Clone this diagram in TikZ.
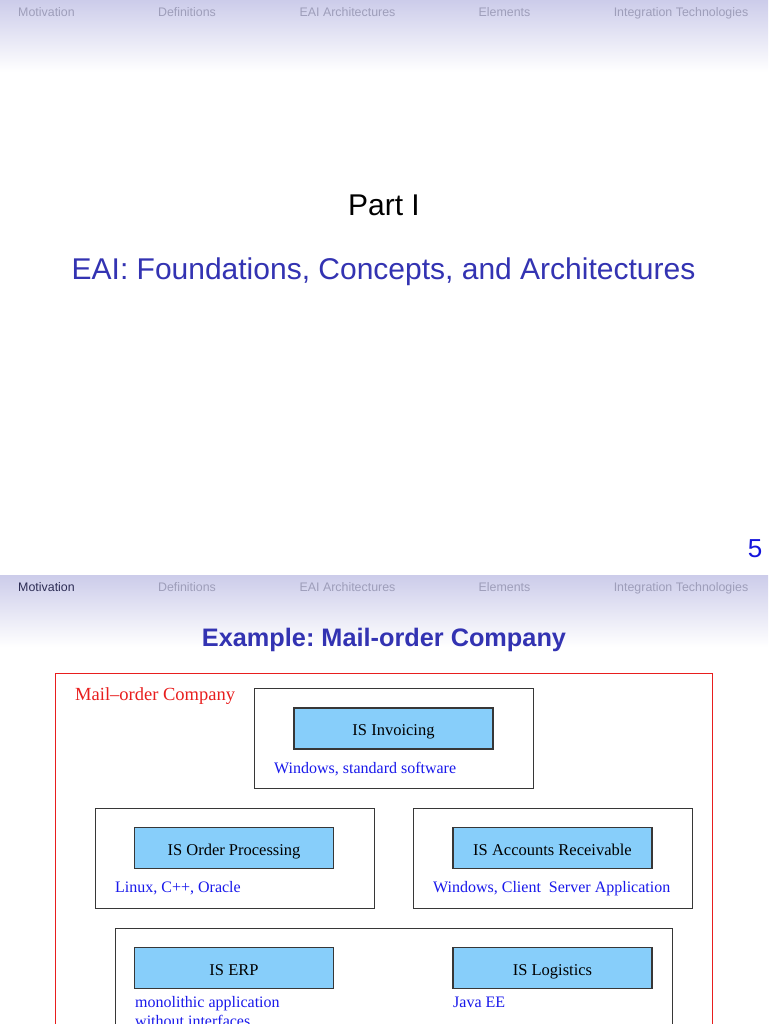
\documentclass[tikz,border=0pt]{standalone}
\usepackage{fontspec}
\setmainfont{Liberation Serif}
\setsansfont{Liberation Sans}
\definecolor{navgray}{RGB}{158,158,186}
\definecolor{navact}{RGB}{45,45,85}
\definecolor{struct}{RGB}{51,51,178}
\definecolor{hdr}{RGB}{204,204,234}
\definecolor{boxblue}{RGB}{135,206,250}
\definecolor{lblblue}{RGB}{25,25,235}
\definecolor{mred}{RGB}{232,30,30}
\definecolor{numblue}{RGB}{20,20,220}
\definecolor{boxline}{RGB}{55,55,55}
\tikzset{
  nav/.style={font=\sffamily\fontsize{12.4}{14}\selectfont, text=navgray, inner sep=0pt, anchor=base},
  navon/.style={nav, text=navact},
  container/.style={draw=boxline, line width=1.1pt, fill=white, anchor=north west, minimum width=279pt, minimum height=100pt, inner sep=0pt},
  isbox/.style={draw=boxline, line width=1.1pt, fill=boxblue, minimum width=199pt, minimum height=41pt, inner sep=0pt, text height=14pt, text depth=0pt, font=\fontsize{16.5}{19}\selectfont},
  lbl/.style={anchor=base west, inner sep=0pt, text=lblblue, font=\fontsize{16}{19}\selectfont},
}
\begin{document}
\frenchspacing
\begin{tikzpicture}[x=1pt,y=-1pt]
\useasboundingbox (0,0) rectangle (768,1024);
\clip (0,0) rectangle (768,1024);
\fill[white] (0,0) rectangle (768,1024);
% ---------- slide 1 ----------
\shade[top color=hdr, bottom color=white] (0,0) rectangle (768,72);
\node[nav] (a1) at (46.5,16.5) {Motivation};
\node[nav] (a2) at (187,16.5) {Definitions};
\node[nav] (a3) at (347.5,16.5) {EAI Architectures};
\node[nav] (a4) at (504.5,16.5) {Elements};
\node[nav] (a5) at (681,16.5) {Integration Technologies};
\node[font=\sffamily\fontsize{30}{36}\selectfont, inner sep=0pt, anchor=base] (part) at (384,215.5) {Part I};
\node[font=\sffamily\fontsize{30}{36}\selectfont, text=struct, inner sep=0pt, anchor=base] (ptitle) at (383.5,279) {EAI: Foundations, Concepts, and Architectures};
\node[font=\sffamily\fontsize{26}{30}\selectfont, text=numblue, inner sep=0pt, anchor=base] (pnum) at (755,557) {5};
% ---------- slide 2 ----------
\shade[top color=hdr, bottom color=white] (0,575) rectangle (768,647);
\node[navon] (b1) at (46.5,591.5) {Motivation};
\node[nav] (b2) at (187,591.5) {Definitions};
\node[nav] (b3) at (347.5,591.5) {EAI Architectures};
\node[nav] (b4) at (504.5,591.5) {Elements};
\node[nav] (b5) at (681,591.5) {Integration Technologies};
\node[font=\sffamily\bfseries\fontsize{25.3}{30}\selectfont, text=struct, inner sep=0pt, anchor=base] (title) at (384,646.5) {Example: Mail-order Company};
% company frame
\draw[mred, line width=1pt] (55.5,1100) -- (55.5,673.5) -- (712.5,673.5) -- (712.5,1100);
\node[anchor=base west, inner sep=0pt, text=mred, font=\fontsize{18.5}{22}\selectfont] (company) at (75,700) {Mail–order Company};
% invoicing
\node[container] (cinv) at (254,688) {};
\node[isbox] (inv) at (393.5,728.5) {IS Invoicing};
\node[lbl] (invl) at (274,773) {Windows, standard software};
% order processing
\node[container] (cord) at (94.5,808) {};
\node[isbox] (ord) at (234,848) {IS Order Processing};
\node[lbl] (ordl) at (115,892) {Linux, C++, Oracle};
% accounts receivable
\node[container] (cacc) at (413,808) {};
\node[isbox] (acc) at (552.5,848) {IS Accounts Receivable};
\node[lbl] (accl) at (433,892) {Windows, Client\ \ Server Application};
% erp + logistics
\node[container, minimum width=557pt, minimum height=160pt] (cerp) at (115,928) {};
\node[isbox] (erp) at (234,968) {IS ERP};
\node[lbl] (erpl) at (135,1007) {monolithic application};
\node[lbl] (erpl2) at (135,1026) {without interfaces};
\node[isbox] (log) at (552.5,968) {IS Logistics};
\node[lbl] (logl) at (453,1007) {Java EE};
\end{tikzpicture}
\end{document}
